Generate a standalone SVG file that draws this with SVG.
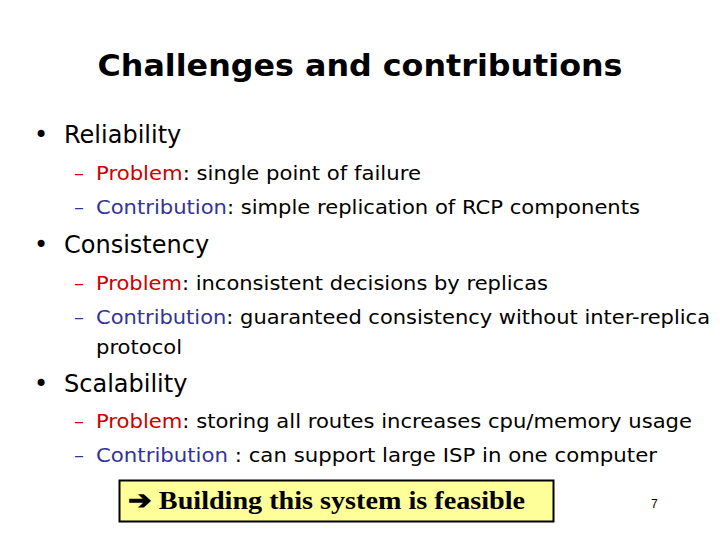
<svg xmlns="http://www.w3.org/2000/svg" width="720" height="540" viewBox="0 0 720 540">
<style>
text{font-family:"DejaVu Sans","Liberation Sans",sans-serif;fill:#000}
.t{font-size:30px;font-weight:bold}
.b{font-size:24px}
.s{font-size:20px}
.r{fill:#cc0000}
.u{fill:#333399}
</style>
<rect width="720" height="540" fill="#fff"/>
<text class="t" x="360" y="76" text-anchor="middle" textLength="525" lengthAdjust="spacingAndGlyphs">Challenges and contributions</text>
<g id="reliability">
<text class="b" x="34" y="143">•</text><text class="b" x="64" y="143">Reliability</text>
<text class="s" x="74" y="180"><tspan class="r">–</tspan></text>
<text class="s" x="96" y="180" textLength="325" lengthAdjust="spacingAndGlyphs"><tspan class="r">Problem</tspan>: single point of failure</text>
<text class="s" x="74" y="214"><tspan class="u">–</tspan></text>
<text class="s" x="96" y="214" textLength="544" lengthAdjust="spacingAndGlyphs"><tspan class="u">Contribution</tspan>: simple replication of RCP components</text>
</g>
<g id="consistency">
<text class="b" x="34" y="253">•</text><text class="b" x="64" y="253">Consistency</text>
<text class="s" x="74" y="290"><tspan class="r">–</tspan></text>
<text class="s" x="96" y="290" textLength="452" lengthAdjust="spacingAndGlyphs"><tspan class="r">Problem</tspan>: inconsistent decisions by replicas</text>
<text class="s" x="74" y="324"><tspan class="u">–</tspan></text>
<text class="s" x="96" y="324" textLength="614" lengthAdjust="spacingAndGlyphs"><tspan class="u">Contribution</tspan>: guaranteed consistency without inter-replica</text>
<text class="s" x="96" y="354" textLength="86" lengthAdjust="spacingAndGlyphs">protocol</text>
</g>
<g id="scalability">
<text class="b" x="34" y="392">•</text><text class="b" x="64" y="392">Scalability</text>
<text class="s" x="74" y="428"><tspan class="r">–</tspan></text>
<text class="s" x="96" y="428" textLength="596" lengthAdjust="spacingAndGlyphs"><tspan class="r">Problem</tspan>: storing all routes increases cpu/memory usage</text>
<text class="s" x="74" y="462"><tspan class="u">–</tspan></text>
<text class="s" x="96" y="462" textLength="561" lengthAdjust="spacingAndGlyphs"><tspan class="u">Contribution</tspan> : can support large ISP in one computer</text>
</g>
<g id="conclusion">
<rect x="119.5" y="480.5" width="434" height="41" fill="#ffff99" stroke="#000" stroke-width="2"/>
<text x="128" y="509" style="font-family:'Liberation Serif',serif;font-size:26px;font-weight:bold" textLength="397" lengthAdjust="spacingAndGlyphs">➔ Building this system is feasible</text>
</g>
<text x="651" y="508" style="font-size:12px;font-family:'Liberation Sans',sans-serif">7</text>
</svg>
